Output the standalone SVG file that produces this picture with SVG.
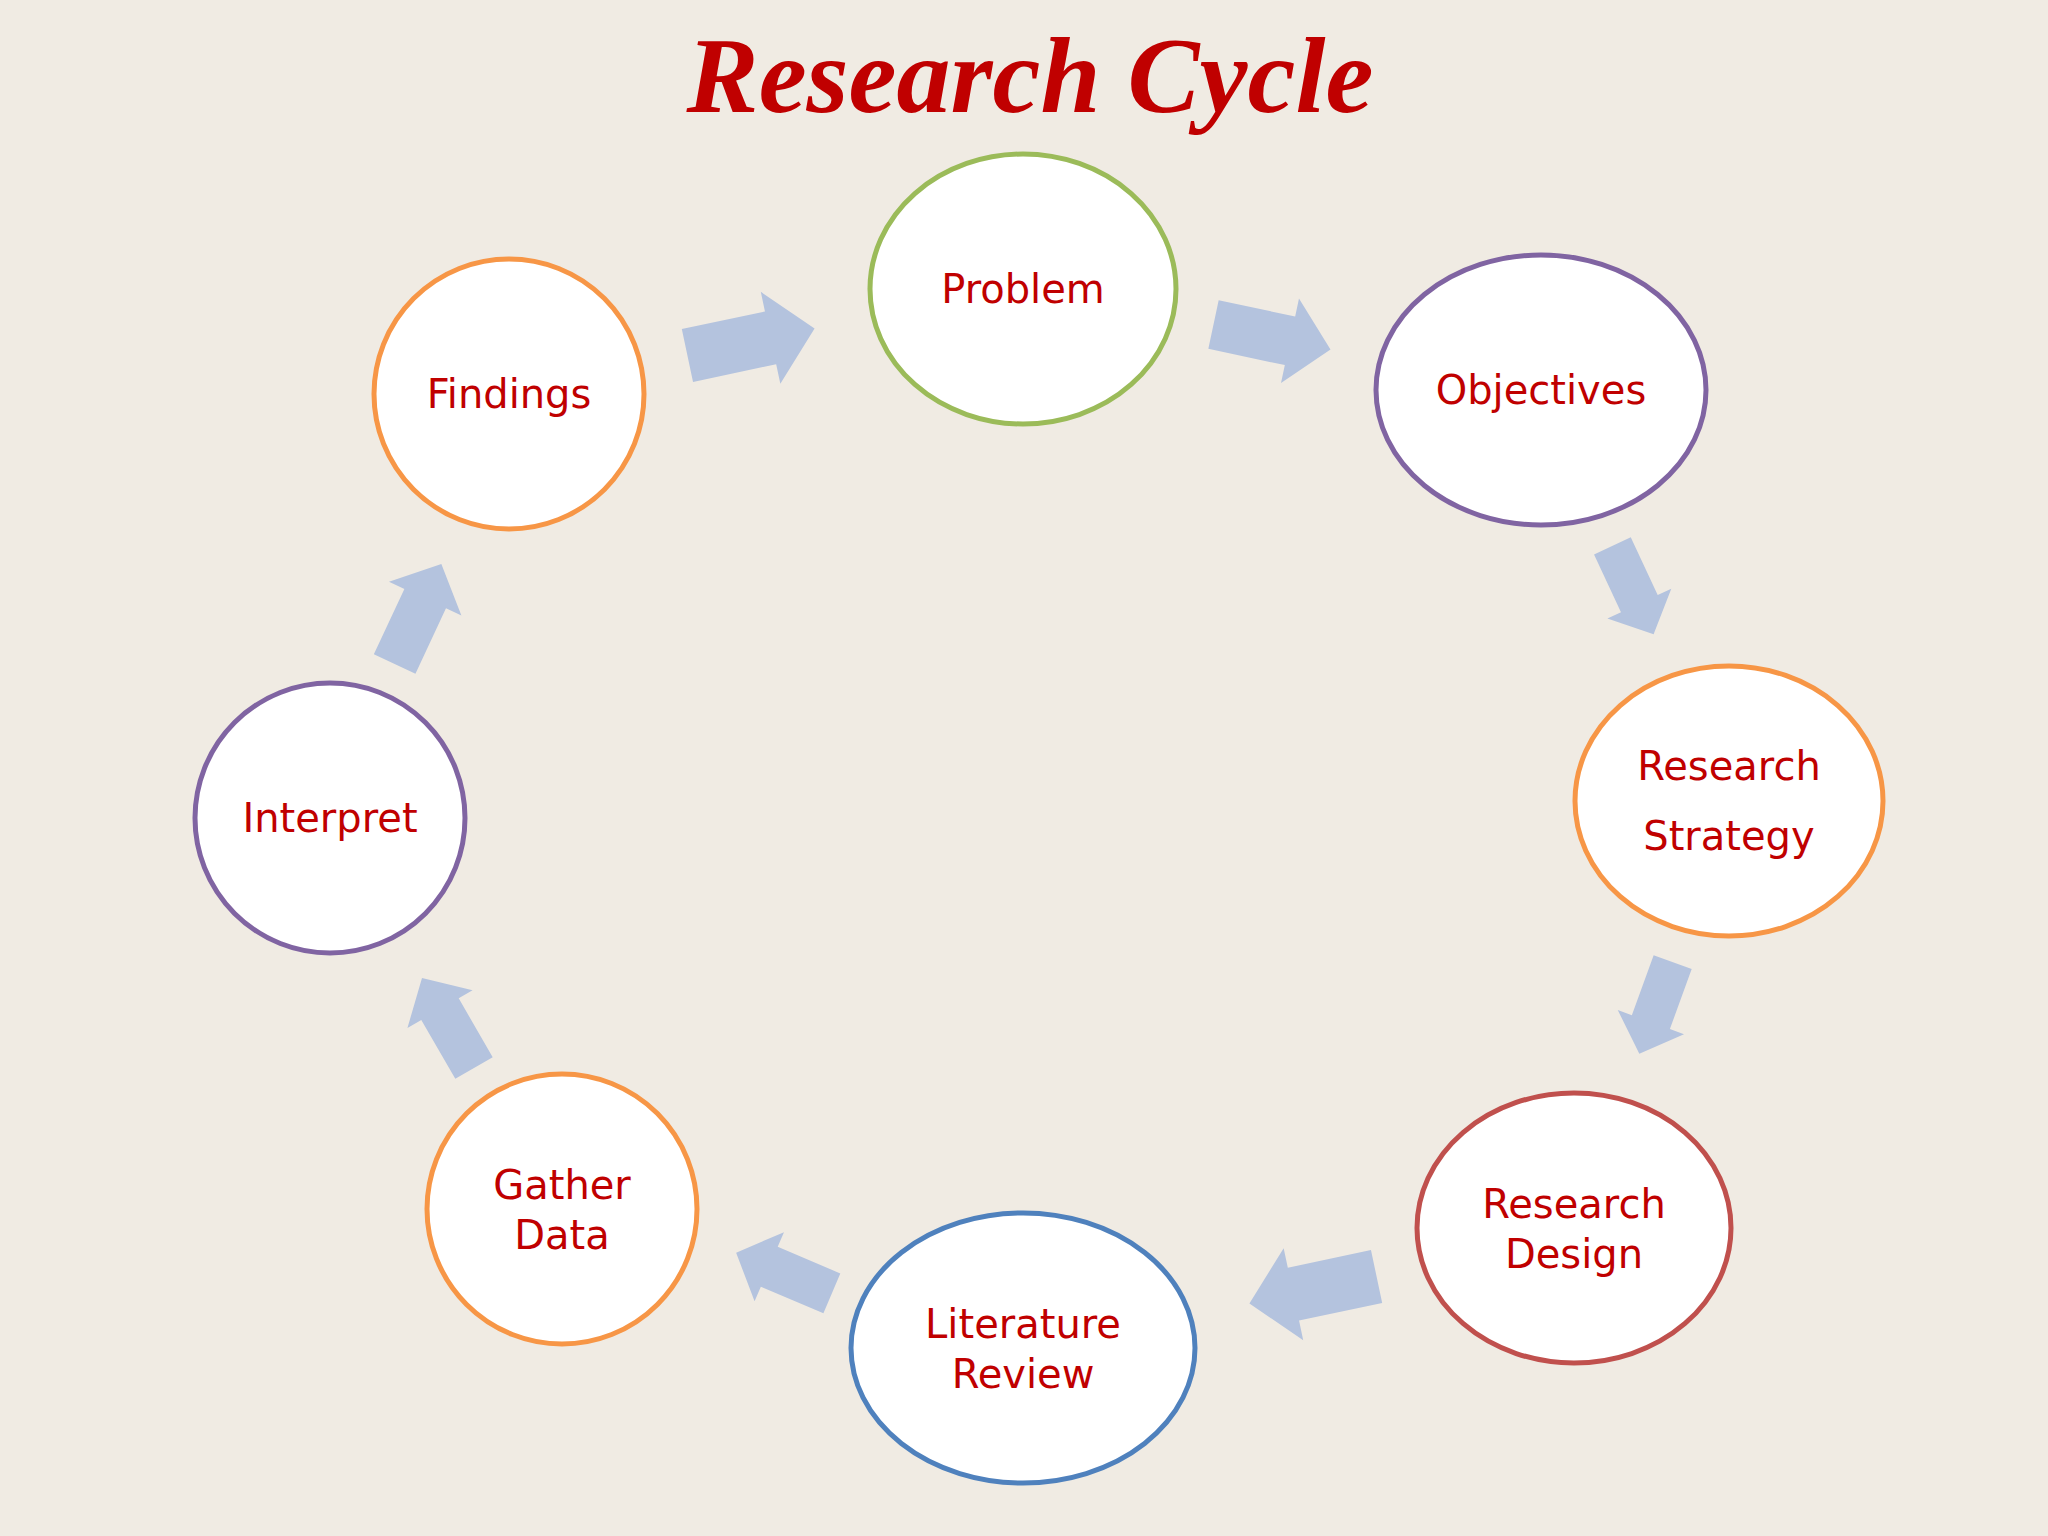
<svg xmlns="http://www.w3.org/2000/svg" width="2048" height="1536" viewBox="0 0 2048 1536">
<defs>
<style>
.n{fill:#fff;stroke-width:5}
.t{font-family:"DejaVu Sans","Liberation Sans",sans-serif;font-size:40px;fill:#C00000;text-anchor:middle}
.a{fill:#B4C3DE}
</style>
<path id="arr" d="M-65,-27 L20,-27 L20,-47 L65,0 L20,47 L20,27 L-65,27 Z"/>
</defs>
<rect width="2048" height="1536" fill="#F0EBE3"/>
<text x="1030" y="112" font-family="Liberation Serif,serif" font-style="italic" font-weight="bold" font-size="108" fill="#C00000" text-anchor="middle">Research Cycle</text>
<g id="connectors" class="a">
<use href="#arr" transform="translate(751,342) rotate(-12)"/>
<use href="#arr" transform="translate(1272,337) rotate(12) scale(0.92)"/>
<use href="#arr" transform="translate(1633,590) rotate(65) scale(0.75)"/>
<use href="#arr" transform="translate(1656,1008) rotate(110) scale(0.75)"/>
<use href="#arr" transform="translate(1313,1290) rotate(168)"/>
<use href="#arr" transform="translate(784,1273) rotate(203) scale(0.8)"/>
<use href="#arr" transform="translate(448,1023) rotate(-120) scale(0.8)"/>
<use href="#arr" transform="translate(418,614) rotate(-65) scale(0.85)"/>
</g>
<g id="problem"><ellipse class="n" cx="1023" cy="289" rx="153" ry="135" stroke="#9BBB59"/><text class="t" x="1023" y="303">Problem</text></g>
<g id="objectives"><ellipse class="n" cx="1541" cy="390" rx="165" ry="135" stroke="#8064A2"/><text class="t" x="1541" y="404">Objectives</text></g>
<g id="strategy"><ellipse class="n" cx="1729" cy="801" rx="154" ry="135" stroke="#F79646"/><text class="t" x="1729" y="780">Research</text><text class="t" x="1729" y="850">Strategy</text></g>
<g id="design"><ellipse class="n" cx="1574" cy="1228" rx="157" ry="135" stroke="#C0504D"/><text class="t" x="1574" y="1218">Research</text><text class="t" x="1574" y="1268">Design</text></g>
<g id="literature"><ellipse class="n" cx="1023" cy="1348" rx="172" ry="135" stroke="#4F81BD"/><text class="t" x="1023" y="1338">Literature</text><text class="t" x="1023" y="1388">Review</text></g>
<g id="gather"><circle class="n" cx="562" cy="1209" r="135" stroke="#F79646"/><text class="t" x="562" y="1199">Gather</text><text class="t" x="562" y="1249">Data</text></g>
<g id="interpret"><circle class="n" cx="330" cy="818" r="135" stroke="#8064A2"/><text class="t" x="330" y="832">Interpret</text></g>
<g id="findings"><circle class="n" cx="509" cy="394" r="135" stroke="#F79646"/><text class="t" x="509" y="408">Findings</text></g>
</svg>
